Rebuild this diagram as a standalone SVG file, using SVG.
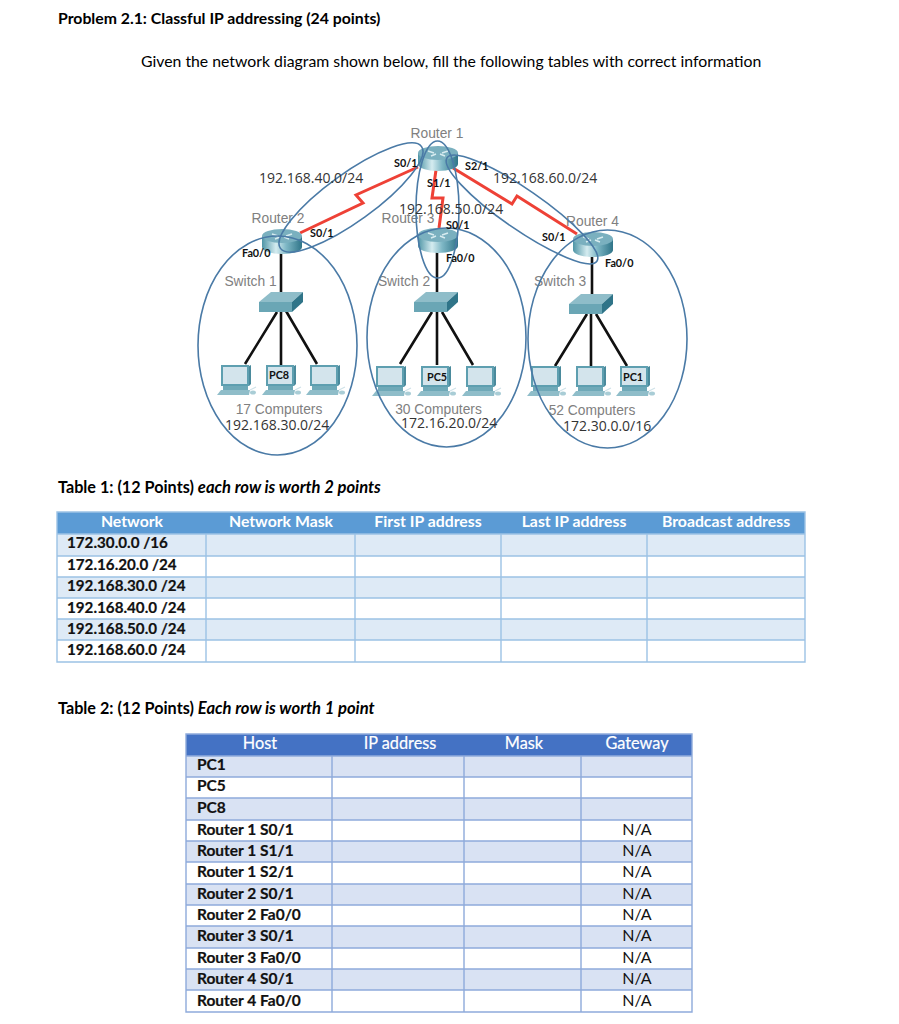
<svg xmlns="http://www.w3.org/2000/svg" xmlns:xlink="http://www.w3.org/1999/xlink" width="899" height="1024" viewBox="0 0 899 1024">
<style>
.doc{font-family:"Lato","Carlito","Open Sans",sans-serif;font-size:15.8px;fill:#000}
.b{font-weight:700;font-size:16.2px}
.t{font-weight:700}
.i{font-weight:700;font-style:italic;font-size:16.6px}
.hd{font-family:"Lato","Open Sans",sans-serif;font-size:15.8px;font-weight:700;fill:#fff;text-anchor:middle}
.hd2{font-family:"Lato","Open Sans",sans-serif;font-size:16.3px;font-weight:400;fill:#fff;text-anchor:middle;stroke:#fff;stroke-width:.2}
.cell{font-family:"Lato","Open Sans",sans-serif;font-size:15.5px;font-weight:700;fill:#111;stroke:#111;stroke-width:.2}
.c1{font-size:15.2px}
.na{font-family:"Lato","Open Sans",sans-serif;font-size:16px;fill:#111;text-anchor:middle}
.dev{font-family:"Liberation Sans",Arial,sans-serif;font-size:13.8px;fill:#808080}
.net{font-family:"Open Sans",sans-serif;font-size:14px;fill:#333}
.if{font-family:"Lato",sans-serif;font-size:10.8px;font-weight:700;fill:#111}
.ell{fill:none;stroke:#4a7aa6;stroke-width:1.6}
.red{fill:none;stroke:#ee4136;stroke-width:3}
.blk{fill:none;stroke:#111;stroke-width:2.6}
.t1b{fill:#deeaf6}.t2b{fill:#d9e2f3}
.t1l{stroke:#9cc2e5;stroke-width:1.4;fill:none}
.t2l{stroke:#8eaadb;stroke-width:1.4;fill:none}
</style>
<defs>
<linearGradient id="rg" x1="0" x2="1" y1="0" y2="0">
<stop offset="0" stop-color="#4f95a6"/><stop offset=".35" stop-color="#d5ecf0"/><stop offset=".6" stop-color="#7fb8c6"/><stop offset="1" stop-color="#2f7488"/>
</linearGradient>
<symbol id="router" viewBox="0 0 40 25" width="40" height="25" overflow="visible">
<path d="M0 7V18C0 22 9 25 20 25S40 22 40 18V7Z" fill="url(#rg)"/>
<ellipse cx="20" cy="7" rx="20" ry="7" fill="#7ab0bf"/>
<path d="M10 5l6 2M30 5l-6 2M13 10l5-2M27 10l-5-2" stroke="#d8ecf0" stroke-width="1.4"/>
</symbol>
<symbol id="switch" viewBox="0 0 44 20" width="44" height="20" overflow="visible">
<path d="M0 10L12 0H44L33 10Z" fill="#8fbdc9"/>
<path d="M0 10H33V20H0Z" fill="#6aa6b5"/>
<path d="M33 10L44 0V10L33 20Z" fill="#2f7488"/>
</symbol>
<symbol id="pc" viewBox="0 0 40 30" width="40" height="30" overflow="visible">
<path d="M5 1H31V20H5Z" fill="#d3e4ec" stroke="#5e9fb0" stroke-width="2"/>
<path d="M32 1L34 0V19L32 21Z" fill="#4a8a9c"/>
<path d="M6 21H31V25H6Z" fill="#6fa9b8"/>
<path d="M0 30L4 25H33L32 30Z" fill="#8fbdc9"/>
<path d="M33 25L39 22" stroke="#cfe2e8" stroke-width="1.2" fill="none"/>
<ellipse cx="36" cy="27.5" rx="3" ry="2" fill="#a9cdd6"/>
</symbol>
</defs>

<g id="headings">
<text class="doc t" x="58" y="24">Problem 2.1: Classful IP addressing (24 points)</text>
<text class="doc" x="141" y="67">Given the network diagram shown below, fill the following tables with correct information</text>
</g>

<g id="connectors">
<path class="red" d="M300 233L363 203L356 195L418 167"/>
<path class="red" d="M436 170L432 198L443 198L439 228"/>
<path class="red" d="M453 168L512 204L517 196L577 234"/>
<path class="blk" d="M281 253V292M437 252V292M592 257V294"/>
<path class="blk" d="M277 312L245 364M281 312V365M286 311L317 364"/>
<path class="blk" d="M432 312L400 364M437 312V365M442 312L473 365"/>
<path class="blk" d="M587 314L555 366M591 314V366M596 314L627 366"/>
</g>

<g id="router1"><use href="#router" x="418" y="146"/><text class="dev" x="437" y="138" text-anchor="middle">Router 1</text></g>
<g id="router2"><use href="#router" x="262" y="229"/><text class="dev" x="278" y="223" text-anchor="middle">Router 2</text></g>
<g id="router3"><use href="#router" x="418" y="228"/><text class="dev" x="408" y="223" text-anchor="middle">Router 3</text></g>
<g id="router4"><use href="#router" x="573" y="232"/><text class="dev" x="592.5" y="226" text-anchor="middle">Router 4</text></g>
<g id="switch1"><use href="#switch" x="259" y="292"/><text class="dev" x="250.5" y="286" text-anchor="middle">Switch 1</text></g>
<g id="switch2"><use href="#switch" x="414" y="292"/><text class="dev" x="404" y="286" text-anchor="middle">Switch 2</text></g>
<g id="switch3"><use href="#switch" x="569" y="294"/><text class="dev" x="560" y="286" text-anchor="middle">Switch 3</text></g>

<g id="pcs1"><use href="#pc" x="217" y="365"/><use href="#pc" x="262" y="365"/><use href="#pc" x="306" y="365"/></g>
<g id="pcs2"><use href="#pc" x="372" y="366"/><use href="#pc" x="417" y="366"/><use href="#pc" x="462" y="366"/></g>
<g id="pcs3"><use href="#pc" x="527" y="366"/><use href="#pc" x="572" y="366"/><use href="#pc" x="616" y="366"/></g>

<g id="networks">
<ellipse class="ell" cx="277.5" cy="345.5" rx="79.5" ry="109.5"/>
<ellipse class="ell" cx="446.5" cy="337.5" rx="79.5" ry="109.5"/>
<ellipse class="ell" cx="607.5" cy="339" rx="79.5" ry="109"/>
<ellipse class="ell" cx="437.5" cy="209.5" rx="21.5" ry="68.5"/>
<ellipse class="ell" cx="351" cy="197.5" rx="87" ry="24" transform="rotate(-35.8 351 197.5)"/>
<ellipse class="ell" cx="522" cy="209.5" rx="91" ry="20" transform="rotate(34.6 522 209.5)"/>
</g>

<g id="labels">
<text class="net" x="259" y="183">192.168.40.0/24</text>
<text class="net" x="399" y="214">192.168.50.0/24</text>
<text class="net" x="493" y="183">192.168.60.0/24</text>
<text class="if" x="394" y="167">S0/1</text>
<text class="if" x="310" y="237">S0/1</text>
<text class="if" x="242" y="257">Fa0/0</text>
<text class="if" x="427" y="187">S1/1</text>
<text class="if" x="465" y="170">S2/1</text>
<text class="if" x="446" y="229">S0/1</text>
<text class="if" x="446" y="262">Fa0/0</text>
<text class="if" x="542" y="241">S0/1</text>
<text class="if" x="605" y="267">Fa0/0</text>
<text class="if" x="269" y="379">PC8</text>
<text class="if" x="427" y="381">PC5</text>
<text class="if" x="623" y="381">PC1</text>
<text class="dev" x="279" y="414" text-anchor="middle">17 Computers</text>
<text class="net" x="225" y="430">192.168.30.0/24</text>
<text class="dev" x="438.5" y="414" text-anchor="middle">30 Computers</text>
<text class="net" x="401" y="428">172.16.20.0/24</text>
<text class="dev" x="592" y="415" text-anchor="middle">52 Computers</text>
<text class="net" x="563" y="431">172.30.0.0/16</text>
</g>

<g id="table1">
<text class="doc" x="58" y="493"><tspan class="b">Table 1: (12 Points) </tspan><tspan class="i">each row is worth 2 points</tspan></text>
<rect x="57" y="512" width="748" height="22" fill="#5b9bd5"/>
<rect class="t1b" x="57" y="534" width="748" height="22"/>
<rect class="t1b" x="57" y="577" width="748" height="21"/>
<rect class="t1b" x="57" y="619" width="748" height="21"/>
<path class="t1l" d="M57 512H805V662H57ZM57 534H805M57 556H805M57 577H805M57 598H805M57 619H805M57 640H805M206 534V662M355 534V662M501 534V662M647 534V662"/>
<text class="hd" x="132" y="527">Network</text>
<text class="hd" x="281" y="527">Network Mask</text>
<text class="hd" x="428" y="527">First IP address</text>
<text class="hd" x="574" y="527">Last IP address</text>
<text class="hd" x="726" y="527">Broadcast address</text>
<text class="cell c1" x="67" y="548">172.30.0.0 /16</text>
<text class="cell c1" x="67" y="570">172.16.20.0 /24</text>
<text class="cell c1" x="67" y="591">192.168.30.0 /24</text>
<text class="cell c1" x="67" y="613">192.168.40.0 /24</text>
<text class="cell c1" x="67" y="634">192.168.50.0 /24</text>
<text class="cell c1" x="67" y="655">192.168.60.0 /24</text>
</g>

<g id="table2">
<text class="doc" x="58" y="714"><tspan class="b">Table 2: (12 Points) </tspan><tspan class="i">Each row is worth 1 point</tspan></text>
<rect x="186" y="734" width="506" height="22" fill="#4472c4"/>
<rect class="t2b" x="186" y="756" width="506" height="21"/>
<rect class="t2b" x="186" y="798" width="506" height="22"/>
<rect class="t2b" x="186" y="841" width="506" height="21"/>
<rect class="t2b" x="186" y="884" width="506" height="21"/>
<rect class="t2b" x="186" y="926" width="506" height="22"/>
<rect class="t2b" x="186" y="969" width="506" height="21"/>
<path class="t2l" d="M186 734H692V1012H186ZM186 756H692M186 777H692M186 798H692M186 820H692M186 841H692M186 862H692M186 884H692M186 905H692M186 926H692M186 948H692M186 969H692M186 990H692M332 756V1012M464 756V1012M581 756V1012"/>
<text class="hd2" x="260" y="749">Host</text>
<text class="hd2" x="400" y="749">IP address</text>
<text class="hd2" x="524" y="749">Mask</text>
<text class="hd2" x="637" y="749">Gateway</text>
<text class="cell" x="197" y="770">PC1</text>
<text class="cell" x="197" y="791">PC5</text>
<text class="cell" x="197" y="813">PC8</text>
<text class="cell" x="197" y="835">Router 1 S0/1</text>
<text class="cell" x="197" y="856">Router 1 S1/1</text>
<text class="cell" x="197" y="877">Router 1 S2/1</text>
<text class="cell" x="197" y="899">Router 2 S0/1</text>
<text class="cell" x="197" y="920">Router 2 Fa0/0</text>
<text class="cell" x="197" y="941">Router 3 S0/1</text>
<text class="cell" x="197" y="963">Router 3 Fa0/0</text>
<text class="cell" x="197" y="984">Router 4 S0/1</text>
<text class="cell" x="197" y="1006">Router 4 Fa0/0</text>
<text class="na" x="637" y="835">N/A</text>
<text class="na" x="637" y="856">N/A</text>
<text class="na" x="637" y="877">N/A</text>
<text class="na" x="637" y="899">N/A</text>
<text class="na" x="637" y="920">N/A</text>
<text class="na" x="637" y="941">N/A</text>
<text class="na" x="637" y="963">N/A</text>
<text class="na" x="637" y="984">N/A</text>
<text class="na" x="637" y="1006">N/A</text>
</g>
</svg>
